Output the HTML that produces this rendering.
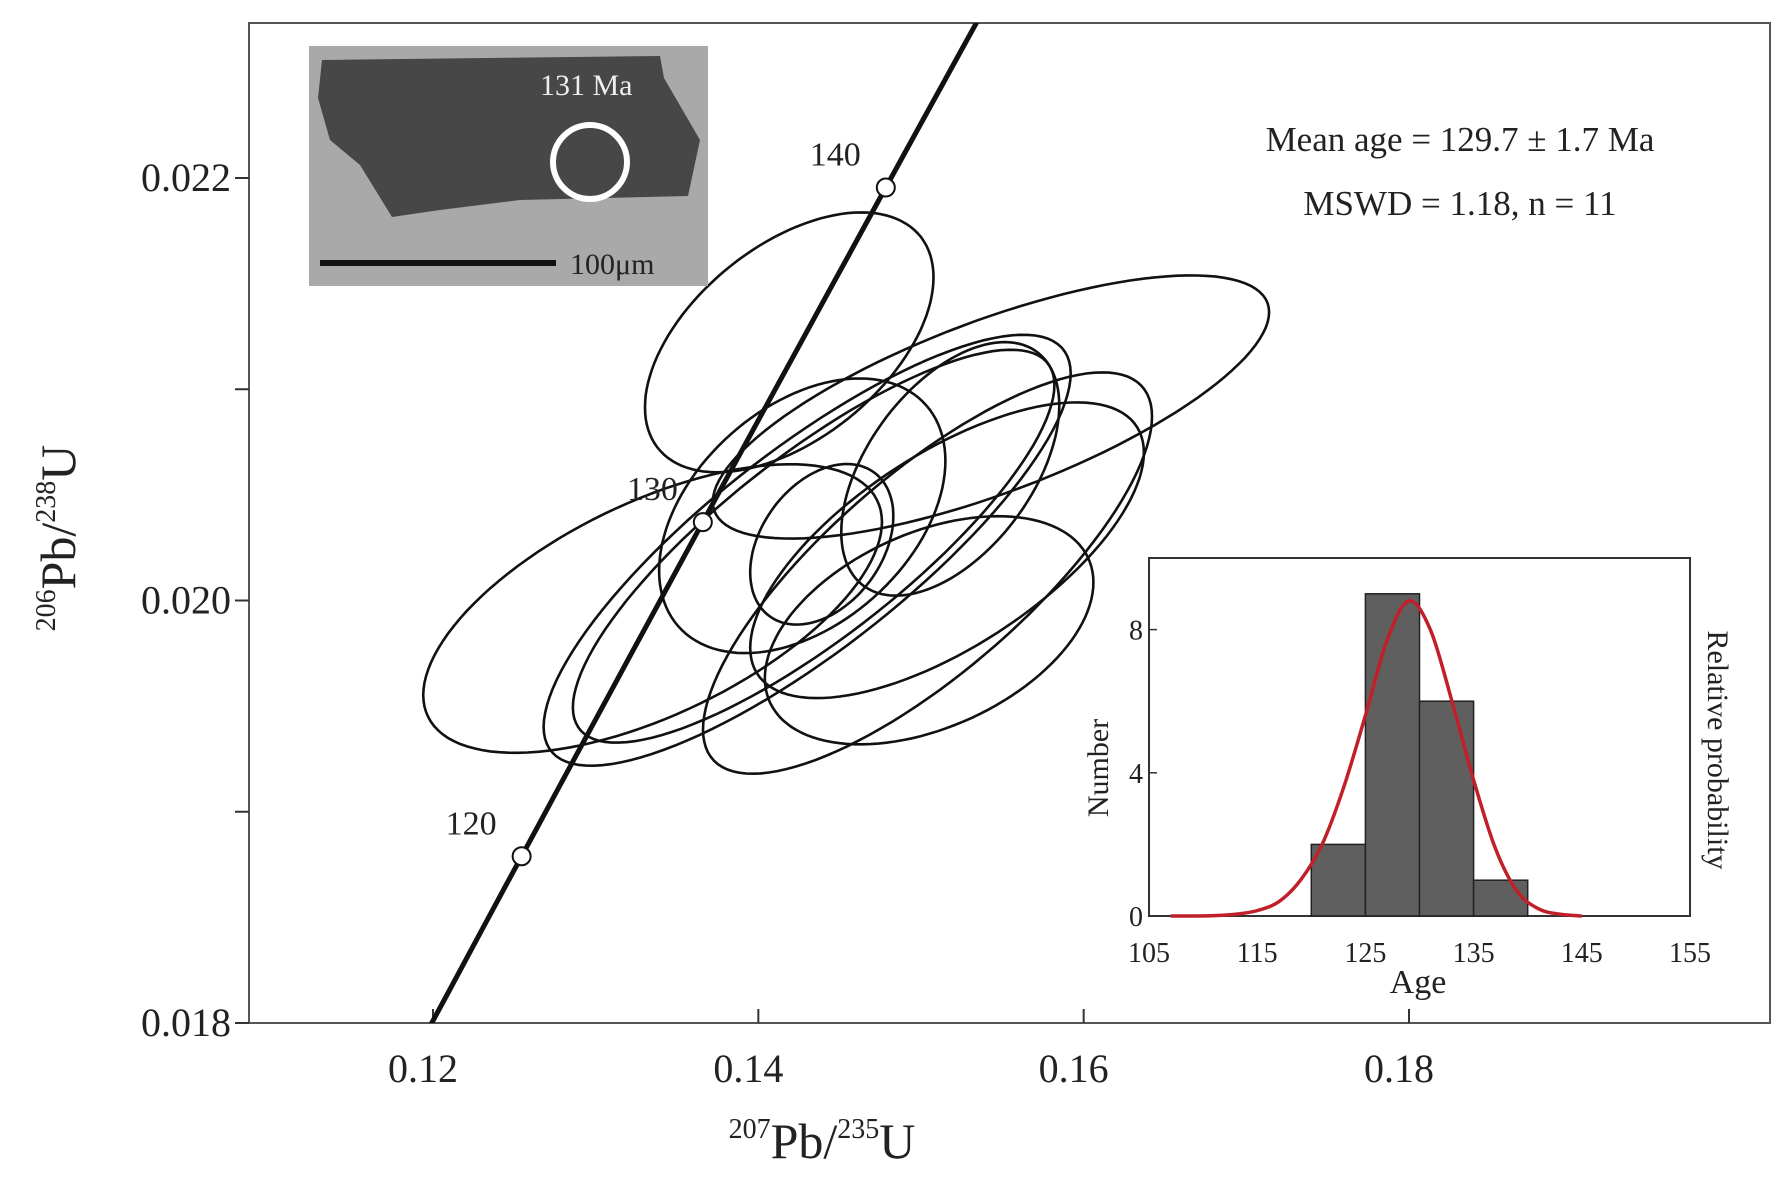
<!DOCTYPE html>
<html><head><meta charset="utf-8"><style>
html,body{margin:0;padding:0;background:#fff;overflow:hidden;width:1787px;height:1179px;}
svg{display:block;font-family:"Liberation Serif",serif;}
</style></head><body>
<svg id="c" width="1787" height="1179" viewBox="0 0 1787 1179">
<rect width="1787" height="1179" fill="#fff"/>
<g id="main"></g>
</svg>
<script>
// ---- main concordia data ----
const xTicks = [0.12, 0.14, 0.16, 0.18];
const xTickLabels = ["0.12", "0.14", "0.16", "0.18"];
const yTicks = [0.018, 0.020, 0.022];
const yTickLabels = ["0.018", "0.020", "0.022"];
const yMinorTicks = [0.019, 0.021];
const concordiaAges = [120, 130, 140];
const ellCx = [0.1419, 0.1543, 0.1335, 0.1430, 0.1434, 0.1427, 0.1504, 0.1516, 0.1505, 0.1439, 0.1518];
const ellCy = [0.021222, 0.020916, 0.019962, 0.020238, 0.020257, 0.020401, 0.020130, 0.020238, 0.019859, 0.020266, 0.020623];
const ellEx = [0.00887, 0.0171, 0.0141, 0.0162, 0.0148, 0.0088, 0.0138, 0.0121, 0.0101, 0.0044, 0.0067];
const ellEy = [0.000615, 0.000623, 0.000683, 0.00102, 0.00093, 0.00065, 0.00095, 0.0007, 0.00054, 0.00038, 0.0006];
const ellRho = [0.5, 0.72, 0.6, 0.82, 0.82, 0.4, 0.78, 0.66, 0.42, 0.35, 0.5];
// ---- histogram inset data ----
const binStarts = [120, 125, 130, 135];
const binCounts = [2, 9, 6, 1];
const histXTicks = [105, 115, 125, 135, 145, 155];
const histYTicks = [0, 4, 8];
const curveAges = [107,109,111,113,115,117,119,121,123,125,127,129,131,133,135,137,139,141,143,145];
const curveVals = [0,0,0.01,0.05,0.15,0.4,1.0,2.0,3.6,5.6,7.7,8.8,8.0,6.0,3.8,1.9,0.7,0.2,0.05,0];

const NS="http://www.w3.org/2000/svg";
const svg=document.getElementById('c');
const g=document.getElementById('main');
function mk(t,a,p){const e=document.createElementNS(NS,t);for(const k in a)e.setAttribute(k,a[k]);(p||g).appendChild(e);return e;}
const L=249,T=23,R=1770,B=1023;
const X=v=>433+(v-0.12)/0.06*(1409-433);
const Y=v=>1023-(v-0.018)/0.004*(1023-178);

const clip=mk('clipPath',{id:'pc'});mk('rect',{x:L,y:T,width:R-L,height:B-T},clip);

let e=mk('rect',{x:L,y:T,width:R-L,height:B-T,fill:'none',stroke:'#555','stroke-width':2});

yTicks.concat(yMinorTicks).forEach((v,i)=>{e=mk('line',{x1:L-14,x2:L,y1:Y(v),y2:Y(v),stroke:'#333','stroke-width':2});
});
xTicks.forEach(v=>{e=mk('line',{x1:X(v),x2:X(v),y1:B,y2:B-14,stroke:'#333','stroke-width':2});
});
yTicks.forEach((v,i)=>{e=mk('text',{x:L-18,y:Y(v)+13,'text-anchor':'end','font-size':40,fill:'#222'});e.textContent=yTickLabels[i];
});
xTicks.forEach((v,i)=>{e=mk('text',{x:X(v)-10,y:1082,'text-anchor':'middle','font-size':40,fill:'#222'});e.textContent=xTickLabels[i];
});
e=mk('text',{x:822,y:1158,'text-anchor':'middle','font-size':50,fill:'#222'});
e.innerHTML='<tspan font-size="28" dy="-20">207</tspan><tspan dy="20">Pb/</tspan><tspan font-size="28" dy="-20">235</tspan><tspan dy="20">U</tspan>';

e=mk('text',{x:0,y:0,'text-anchor':'middle','font-size':50,fill:'#222',transform:'translate(75,538) rotate(-90)'});
e.innerHTML='<tspan font-size="28" dy="-20">206</tspan><tspan dy="20">Pb/</tspan><tspan font-size="28" dy="-20">238</tspan><tspan dy="20">U</tspan>';


const pg=mk('g',{'clip-path':'url(#pc)'});
for(let i=0;i<ellCx.length;i++){
 let d='';const s=Math.sqrt(1-ellRho[i]*ellRho[i]);
 for(let k=0;k<=120;k++){const t=k/120*2*Math.PI;
  const xv=ellCx[i]+ellEx[i]*Math.cos(t);
  const yv=ellCy[i]+ellEy[i]*(ellRho[i]*Math.cos(t)+s*Math.sin(t));
  d+=(k?'L':'M')+X(xv).toFixed(1)+' '+Y(yv).toFixed(1);}
 e=mk('path',{d:d+'Z',fill:'none',stroke:'#111','stroke-width':2.6},pg);
 
}
const l238=1.55125e-10,l235=9.8485e-10;
const cx=a=>Math.exp(l235*a*1e6)-1, cy=a=>Math.exp(l238*a*1e6)-1;
let d='';for(let a=100;a<=170;a+=1){d+=(a>100?'L':'M')+X(cx(a)).toFixed(1)+' '+Y(cy(a)).toFixed(1);}
e=mk('path',{d:d,fill:'none',stroke:'#111','stroke-width':5},pg);

concordiaAges.forEach(a=>{e=mk('circle',{cx:X(cx(a)),cy:Y(cy(a)),r:9,fill:'#fff',stroke:'#111','stroke-width':2});

e=mk('text',{x:X(cx(a))-25,y:Y(cy(a))-22,'text-anchor':'end','font-size':34,fill:'#222'});e.textContent=a;
});

e=mk('text',{x:1460,y:151,'text-anchor':'middle','font-size':35,fill:'#222'});e.textContent='Mean age = 129.7 ± 1.7 Ma';

e=mk('text',{x:1460,y:215,'text-anchor':'middle','font-size':35,fill:'#222'});e.textContent='MSWD = 1.18, n = 11';


const im=mk('g',{});
mk('rect',{x:309,y:46,width:399,height:240,fill:'#a9a9a9'},im);
mk('polygon',{points:'322,60 660,56 664,78 700,140 688,196 520,200 440,210 392,217 360,165 330,140 318,98',fill:'#474747'},im);
mk('circle',{cx:590,cy:162,r:37,fill:'none',stroke:'#fff','stroke-width':6},im);
mk('line',{x1:320,y1:263,x2:556,y2:263,stroke:'#111','stroke-width':6},im);
e=mk('text',{x:540,y:95,'font-size':30,fill:'#eee'},im);e.textContent='131 Ma';

e=mk('text',{x:570,y:274,'font-size':30,fill:'#222'},im);e.textContent='100μm';


const HL=1149,HR=1690,HT=558,HB=916;
const HX=v=>HL+(v-105)/50*(HR-HL);
const HY=v=>HB-v*(HB-HT)/10;
e=mk('rect',{x:HL,y:HT,width:HR-HL,height:HB-HT,fill:'#fff',stroke:'#333','stroke-width':2});

binStarts.forEach((b,i)=>{e=mk('rect',{x:HX(b),y:HY(binCounts[i]),width:HX(b+5)-HX(b),height:HB-HY(binCounts[i]),fill:'#5f5f5f',stroke:'#222','stroke-width':1.5});
});
let pts=curveAges.map((a,i)=>[HX(a),HY(curveVals[i])]);
d='M'+pts[0][0]+' '+pts[0][1];
for(let i=0;i<pts.length-1;i++){const p0=pts[Math.max(0,i-1)],p1=pts[i],p2=pts[i+1],p3=pts[Math.min(pts.length-1,i+2)];
d+=`C${p1[0]+(p2[0]-p0[0])/6} ${p1[1]+(p2[1]-p0[1])/6} ${p2[0]-(p3[0]-p1[0])/6} ${p2[1]-(p3[1]-p1[1])/6} ${p2[0]} ${p2[1]}`;}
e=mk('path',{d:d,fill:'none',stroke:'#c0202a','stroke-width':3.5});

histYTicks.forEach(v=>{e=mk('line',{x1:HL,x2:HL+8,y1:HY(v),y2:HY(v),stroke:'#333','stroke-width':1.5});

e=mk('text',{x:HL-6,y:HY(v)+10,'text-anchor':'end','font-size':28,fill:'#222'});e.textContent=v;
});
histXTicks.forEach(v=>{e=mk('text',{x:HX(v),y:962,'text-anchor':'middle','font-size':28,fill:'#222'});e.textContent=v;
});
e=mk('text',{x:1418,y:993,'text-anchor':'middle','font-size':34,fill:'#222'});e.textContent='Age';

e=mk('text',{x:0,y:0,'text-anchor':'middle','font-size':30,fill:'#222',transform:'translate(1108,768) rotate(-90)'});e.textContent='Number';

e=mk('text',{x:0,y:0,'text-anchor':'middle','font-size':30,fill:'#222',transform:'translate(1708,750) rotate(90)'});e.textContent='Relative probability';

</script>
</body></html>
